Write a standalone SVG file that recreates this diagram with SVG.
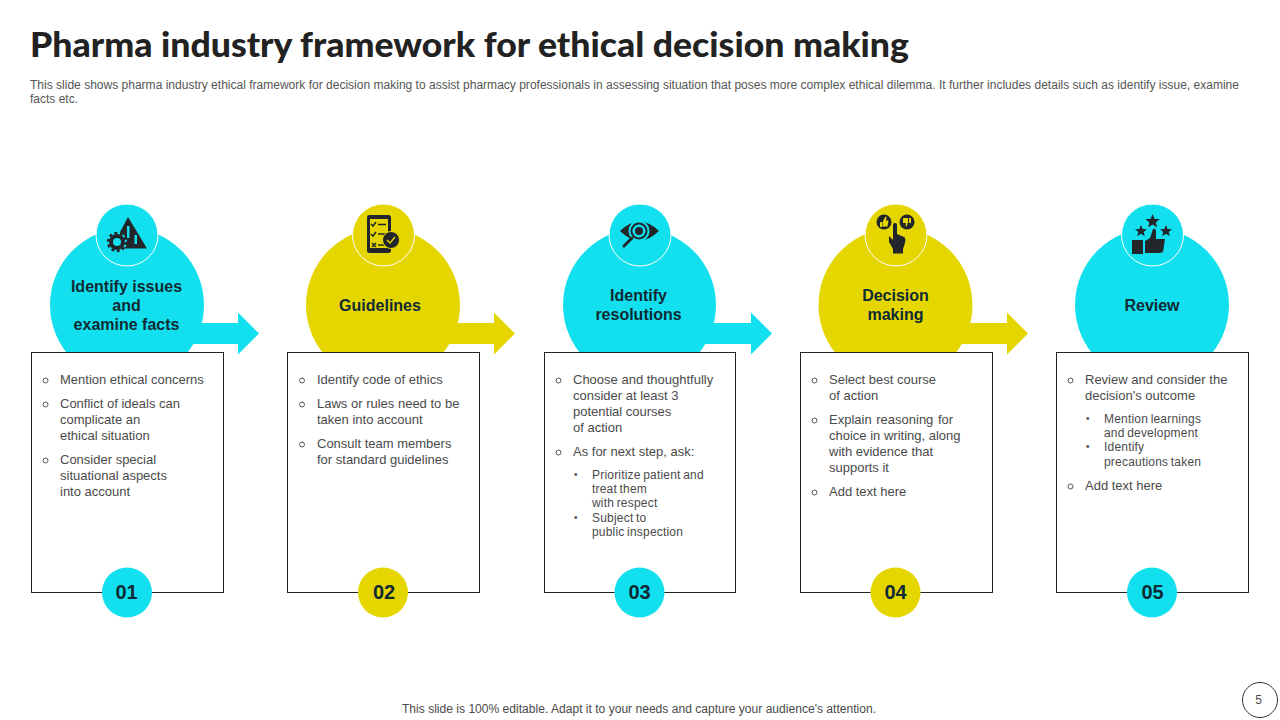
<svg xmlns="http://www.w3.org/2000/svg" width="1280" height="720" viewBox="0 0 1280 720">
<style>
text{font-family:"Liberation Sans",Arial,sans-serif}
.title{font-family:Lato,"Liberation Sans",sans-serif;font-weight:900;font-size:34px;fill:#222}
.sub{font-size:12px;fill:#555}
.head{font-size:16px;font-weight:700;fill:#0f2a33;text-anchor:middle}
.num{font-size:20px;font-weight:700;fill:#0f2a33;text-anchor:middle}
.b{font-size:13px;fill:#4a4a4a}
.s{font-size:12px;fill:#4a4a4a;letter-spacing:.2px;word-spacing:-1px}
.d{font-size:10px;fill:#4a4a4a}
.m{font-size:12px;fill:#4a4a4a}
.o{fill:none;stroke:#555;stroke-width:1}
.c{fill:#13E0EF}.y{fill:#E6D600}
.ring{stroke:#fff;stroke-width:1}
.box{fill:#fff;stroke:#222;stroke-width:1}
.ic{fill:#22262b}
</style>
<defs>
<path id="arrow" d="M0 -10.500H48V-21L69 0L48 21V10.500H0Z"/>
<path id="star" d="M0 -6L1.700 -1.900L6 -1.800L2.700 1L3.800 5.200L0 2.800L-3.800 5.200L-2.700 1L-6 -1.800L-1.700 -1.900Z"/>
</defs>
<text class="title" x="30" y="57" textLength="879" lengthAdjust="spacingAndGlyphs">Pharma industry framework for ethical decision making</text>
<text class="sub" x="30" y="89" textLength="1209" lengthAdjust="spacingAndGlyphs">This slide shows pharma industry ethical framework for decision making to assist pharmacy professionals in assessing situation that poses more complex ethical dilemma. It further includes details such as identify issue, examine</text>
<text class="sub" x="30" y="103">facts etc.</text>

<g id="connectors">
<use href="#arrow" class="c" x="190" y="333.500"/>
<use href="#arrow" class="y" x="446" y="333.500"/>
<use href="#arrow" class="c" x="703" y="333.500"/>
<use href="#arrow" class="y" x="959" y="333.500"/>
</g>

<g id="node-1">
<circle class="c" cx="127" cy="305" r="77"/>
<circle class="c ring" cx="127" cy="235" r="31"/>
<path class="ic" d="M128 217L147 248.500H123L125 243L122 240L123 236L119 234Z"/>
<g fill="#13E0EF"><rect x="127" y="226" width="2.500" height="12"/><rect x="134.500" y="235" width="2.500" height="9"/></g>
<circle cx="117" cy="242" r="6" fill="none" stroke="#13E0EF" stroke-width="8"/>
<circle cx="117" cy="242" r="6" fill="none" stroke="#22262b" stroke-width="4"/>
<circle cx="117" cy="242" r="9" fill="none" stroke="#22262b" stroke-width="2.500" stroke-dasharray="3 2.650"/>
<text class="head"><tspan x="126.500" y="292">Identify issues</tspan><tspan x="126.500" y="311">and</tspan><tspan x="126.500" y="330">examine facts</tspan></text>
<rect class="box" x="31.500" y="352.500" width="192" height="240"/>
<circle class="o" cx="45.500" cy="380.500" r="2.500"/><text class="b" x="60" y="384">Mention ethical concerns</text>
<circle class="o" cx="45.500" cy="404.500" r="2.500"/><text class="b"><tspan x="60" y="408">Conflict of ideals can</tspan><tspan x="60" y="424">complicate an</tspan><tspan x="60" y="440">ethical situation</tspan></text>
<circle class="o" cx="45.500" cy="460.500" r="2.500"/><text class="b"><tspan x="60" y="464">Consider special</tspan><tspan x="60" y="480">situational aspects</tspan><tspan x="60" y="496">into account</tspan></text>
<circle class="c" cx="127" cy="592.500" r="25"/>
<text class="num" x="126.500" y="599">01</text>
</g>

<g id="node-2">
<circle class="y" cx="383" cy="305" r="77"/>
<circle class="y ring" cx="383.500" cy="235" r="31"/>
<rect class="ic" x="367" y="215" width="24" height="38" rx="2.500"/>
<rect x="370" y="219" width="18" height="29" fill="#E6D600"/>
<g fill="none" stroke="#22262b" stroke-width="1.500"><path d="M371 224L373 226L376 222M378 224.500H386M371 234L373 236L376 232M378 234H386M372 243L376 247M376 243L372 247M378 245H384"/></g>
<circle class="ic" cx="391" cy="240" r="8.500" stroke="#E6D600" stroke-width="1"/>
<path d="M387 240L390 243L395 237" fill="none" stroke="#E6D600" stroke-width="1.500"/>
<text class="head" x="380" y="311">Guidelines</text>
<rect class="box" x="287.500" y="352.500" width="192" height="240"/>
<circle class="o" cx="302" cy="380.500" r="2.500"/><text class="b" x="317" y="384">Identify code of ethics</text>
<circle class="o" cx="302" cy="404.500" r="2.500"/><text class="b"><tspan x="317" y="408">Laws or rules need to be</tspan><tspan x="317" y="424">taken into account</tspan></text>
<circle class="o" cx="302" cy="444.500" r="2.500"/><text class="b"><tspan x="317" y="448">Consult team members</tspan><tspan x="317" y="464">for standard guidelines</tspan></text>
<circle class="y" cx="383" cy="592.500" r="25"/>
<text class="num" x="384" y="599">02</text>
</g>

<g id="node-3">
<circle class="c" cx="639.500" cy="305" r="76.500"/>
<circle class="c ring" cx="640" cy="235" r="31"/>
<path class="ic" d="M620 231Q639.500 212 659 231Q639.500 250 620 231Z"/>
<circle cx="639" cy="231" r="10.500" fill="#13E0EF"/>
<circle class="ic" cx="639" cy="231" r="8.500"/>
<circle cx="639" cy="231" r="6.500" fill="#13E0EF"/>
<circle class="ic" cx="639" cy="231" r="4"/>
<path d="M632 238L624 246" stroke="#22262b" stroke-width="3" stroke-linecap="round"/>
<text class="head"><tspan x="638.500" y="301">Identify</tspan><tspan x="638.500" y="320">resolutions</tspan></text>
<rect class="box" x="544.500" y="352.500" width="191" height="240"/>
<circle class="o" cx="558.500" cy="380.500" r="2.500"/><text class="b"><tspan x="573" y="384">Choose and thoughtfully</tspan><tspan x="573" y="400">consider at least 3</tspan><tspan x="573" y="416">potential courses</tspan><tspan x="573" y="432">of action</tspan></text>
<circle class="o" cx="558.500" cy="452.500" r="2.500"/><text class="b" x="573" y="456">As for next step, ask:</text>
<text class="d" x="574" y="478">•</text><text class="s"><tspan x="592" y="479">Prioritize patient and</tspan><tspan x="592" y="493">treat them</tspan><tspan x="592" y="507">with respect</tspan></text><text class="d" x="574" y="521">•</text><text class="s"><tspan x="592" y="522">Subject to</tspan><tspan x="592" y="536">public inspection</tspan></text>
<circle class="c" cx="639.500" cy="592.500" r="25"/>
<text class="num" x="639.500" y="599">03</text>
</g>

<g id="node-4">
<circle class="y" cx="895.500" cy="305" r="77"/>
<circle class="y ring" cx="896" cy="235" r="31"/>
<circle class="ic" cx="884" cy="222" r="7.500"/><circle class="ic" cx="907" cy="222" r="7.500"/>
<path d="M880 222h2.500v5H880zM883 221l2.500-4.500 1 .5-.5 3.500h2.500l-1 6h-4.500z M903 218h5v4.500l-1.500 4-1-.5.500-3h-3zM909 218h2v5h-2z" fill="#E6D600"/>
<path class="ic" d="M893 224Q895 222 897 224V234L904 237Q906 238 905 243L903 249H893L889 242L889 236L893 240Z"/>
<rect class="ic" x="893" y="246" width="10" height="7.500"/>
<text class="head"><tspan x="895.500" y="301">Decision</tspan><tspan x="895.500" y="320">making</tspan></text>
<rect class="box" x="800.500" y="352.500" width="192" height="240"/>
<circle class="o" cx="814.500" cy="380.500" r="2.500"/><text class="b"><tspan x="829" y="384">Select best course</tspan><tspan x="829" y="400">of action</tspan></text>
<circle class="o" cx="814.500" cy="420.500" r="2.500"/><text class="b"><tspan x="829" y="424" word-spacing="1">Explain reasoning for</tspan><tspan x="829" y="440">choice in writing, along</tspan><tspan x="829" y="456">with evidence that</tspan><tspan x="829" y="472">supports it</tspan></text>
<circle class="o" cx="814.500" cy="492.500" r="2.500"/><text class="b" x="829" y="496">Add text here</text>
<circle class="y" cx="895.500" cy="592.500" r="25"/>
<text class="num" x="895.500" y="599">04</text>
</g>

<g id="node-5">
<circle class="c" cx="1152" cy="305" r="77"/>
<circle class="c ring" cx="1152.500" cy="235" r="31"/>
<use href="#star" class="ic" x="1153" y="221" transform="translate(-231 -44) scale(1.200)"/>
<use href="#star" class="ic" x="1141" y="231"/>
<use href="#star" class="ic" x="1166" y="231"/>
<rect class="ic" x="1132" y="240" width="11" height="14"/>
<path class="ic" d="M1145 241L1150 238L1153 229Q1156 228 1156 232V239H1165L1163 252L1160 253H1145Z"/>
<text class="head" x="1152" y="311">Review</text>
<rect class="box" x="1056.500" y="352.500" width="192" height="240"/>
<circle class="o" cx="1070.500" cy="380.500" r="2.500"/><text class="b"><tspan x="1085" y="384">Review and consider the</tspan><tspan x="1085" y="400">decision's outcome</tspan></text>
<text class="d" x="1086" y="422">•</text><text class="s"><tspan x="1104" y="423">Mention learnings</tspan><tspan x="1104" y="437">and development</tspan></text><text class="d" x="1086" y="450">•</text><text class="s"><tspan x="1104" y="451">Identify</tspan><tspan x="1104" y="466">precautions taken</tspan></text>
<circle class="o" cx="1070.500" cy="486.500" r="2.500"/><text class="b" x="1085" y="490">Add text here</text>
<circle class="c" cx="1152" cy="592.500" r="25"/>
<text class="num" x="1152.500" y="599">05</text>
</g>

<text class="m" x="402" y="713" textLength="474" lengthAdjust="spacingAndGlyphs">This slide is 100% editable. Adapt it to your needs and capture your audience's attention.</text>
<circle cx="1260" cy="700" r="17.500" fill="#fff" stroke="#333" stroke-width="1"/>
<text class="m" x="1258.500" y="704" text-anchor="middle">5</text>
</svg>
